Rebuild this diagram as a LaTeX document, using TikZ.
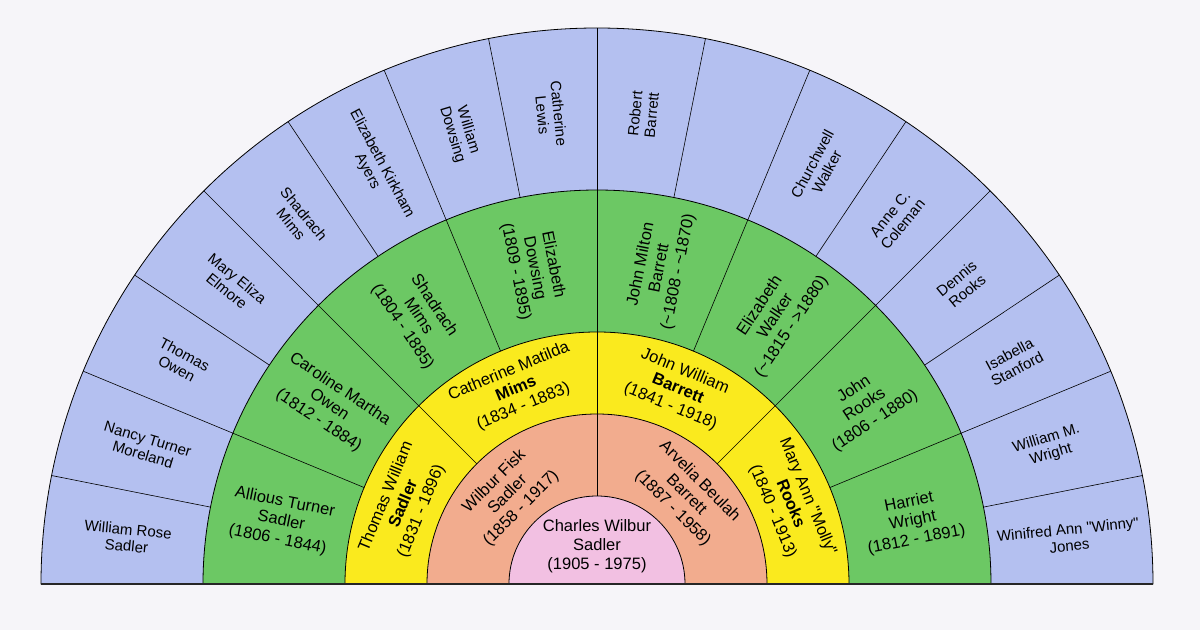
\documentclass[tikz,border=0pt]{standalone}
\usepackage{fontspec}
\setmainfont{Liberation Sans}
\definecolor{fanblue}{RGB}{180,192,240}
\definecolor{fangreen}{RGB}{108,200,100}
\definecolor{fanyellow}{RGB}{250,234,30}
\definecolor{fansalmon}{RGB}{242,172,142}
\definecolor{fanpink}{RGB}{242,192,226}
\definecolor{paper}{RGB}{246,245,249}
\tikzset{
  ring/.style={draw=black, line width=0.8pt},
  divide/.style={draw=black, line width=0.6pt},
  who/.style={align=center, inner sep=0pt, font=\fontsize{16.5}{19}\selectfont},
  elder/.style={align=center, inner sep=0pt, font=\fontsize{15}{16.5}\selectfont},
}
\begin{document}
\begin{tikzpicture}[x=1pt,y=1pt]
%\draw[step=50,gray,very thin] (-550,0) grid (550,550);
\fill[paper] (-597,-46) rectangle (603,584);
\useasboundingbox (-597,-46) rectangle (603,584);

% rings, outermost first
\draw[ring,fill=fanblue] (-556,0) arc[start angle=180,end angle=0,radius=556] -- cycle;
\draw[ring,fill=fangreen] (-394,0) arc[start angle=180,end angle=0,radius=394] -- cycle;
\draw[ring,fill=fanyellow] (-252,0) arc[start angle=180,end angle=0,radius=252] -- cycle;
\draw[ring,fill=fansalmon] (-170,0) arc[start angle=180,end angle=0,radius=170] -- cycle;
\draw[ring,fill=fanpink] (-88,0) arc[start angle=180,end angle=0,radius=88] -- cycle;

% dividers
\draw[divide] (90:88) -- (90:556);
\draw[divide] (45:170) -- (45:556);
\draw[divide] (135:170) -- (135:556);
\draw[divide] (22.5:252) -- (22.5:556);
\draw[divide] (67.5:252) -- (67.5:556);
\draw[divide] (112.5:252) -- (112.5:556);
\draw[divide] (157.5:252) -- (157.5:556);
\draw[divide] (11.25:394) -- (11.25:556);
\draw[divide] (33.75:394) -- (33.75:556);
\draw[divide] (56.25:394) -- (56.25:556);
\draw[divide] (78.75:394) -- (78.75:556);
\draw[divide] (101.25:394) -- (101.25:556);
\draw[divide] (123.75:394) -- (123.75:556);
\draw[divide] (146.25:394) -- (146.25:556);
\draw[divide] (168.75:394) -- (168.75:556);
\draw[line width=1.4pt,black!85] (-556,0) -- (556,0);

%------------------------------------------------

\node[who] (charles) at (0,38) {Charles Wilbur\\Sadler\\(1905 - 1975)};

\node[who,rotate=45] (wilbur) at (135:126) {Wilbur Fisk\\Sadler\\(1858 - 1917)};
\node[who,rotate=-45] (arvelia) at (45:126) {Arvelia Beulah\\Barrett\\(1887 - 1958)};

\node[who,rotate=67.5] (thomasw) at (157.5:209) {Thomas William\\\textbf{Sadler}\\(1831 - 1896)};
\node[who,rotate=22.5] (catherinem) at (112.5:211) {Catherine Matilda\\\textbf{Mims}\\(1834 - 1883)};
\node[who,rotate=-22.5] (johnw) at (67.5:211) {John William\\\textbf{Barrett}\\(1841 - 1918)};
\node[who,rotate=-67.5] (maryann) at (22.5:209) {Mary Ann \textquotedbl Molly\textquotedbl\\\textbf{Rooks}\\(1840 - 1913)};

\node[who,rotate=-11.25] (allious) at (168.75:322) {Allious Turner\\Sadler\\(1806 - 1844)};
\node[who,rotate=-33.75] (caroline) at (146.25:322) {Caroline Martha\\Owen\\(1812 - 1884)};
\node[who,rotate=-56.25] (shadrachm) at (123.75:322) {Shadrach\\Mims\\(1804 - 1885)};
\node[who,rotate=-78.75] (elizabethd) at (101.25:322) {Elizabeth\\Dowsing\\(1809 - 1895)};
\node[who,rotate=78.75] (johnm) at (78.75:322) {John Milton\\Barrett\\(\textasciitilde1808 - \textasciitilde1870)};
\node[who,rotate=56.25] (elizabethw) at (56.25:322) {Elizabeth\\Walker\\(\textasciitilde1815 - >1880)};
\node[who,rotate=33.75] (johnr) at (33.75:322) {John\\Rooks\\(1806 - 1880)};
\node[who,rotate=11.25] (harriet) at (11.25:322) {Harriet\\Wright\\(1812 - 1891)};

\node[elder,rotate=-5.625] (williamr) at (174.375:472) {William Rose\\Sadler};
\node[elder,rotate=-16.875] (nancy) at (163.125:472) {Nancy Turner\\Moreland};
\node[elder,rotate=-28.125] (thomaso) at (151.875:472) {Thomas\\Owen};
\node[elder,rotate=-39.375] (marye) at (140.625:472) {Mary Eliza\\Elmore};
\node[elder,rotate=-50.625] (shadrach) at (129.375:472) {Shadrach\\Mims};
\node[elder,rotate=-61.875] (elizabetha) at (118.125:472) {Elizabeth Kirkham\\Ayers};
\node[elder,rotate=-73.125] (williamd) at (106.875:472) {William\\Dowsing};
\node[elder,rotate=-84.375] (catherinel) at (95.625:472) {Catherine\\Lewis};
\node[elder,rotate=84.375] (robert) at (84.375:472) {Robert\\Barrett};
\node[elder,rotate=61.875] (churchwell) at (61.875:472) {Churchwell\\Walker};
\node[elder,rotate=50.625] (anne) at (50.625:472) {Anne C.\\Coleman};
\node[elder,rotate=39.375] (dennis) at (39.375:472) {Dennis\\Rooks};
\node[elder,rotate=28.125] (isabella) at (28.125:472) {Isabella\\Stanford};
\node[elder,rotate=16.875] (williamm) at (16.875:472) {William M.\\Wright};
\node[elder,rotate=5.625] (winifred) at (5.625:474) {Winifred Ann \textquotedbl Winny\textquotedbl\\Jones};
\end{tikzpicture}
\end{document}
